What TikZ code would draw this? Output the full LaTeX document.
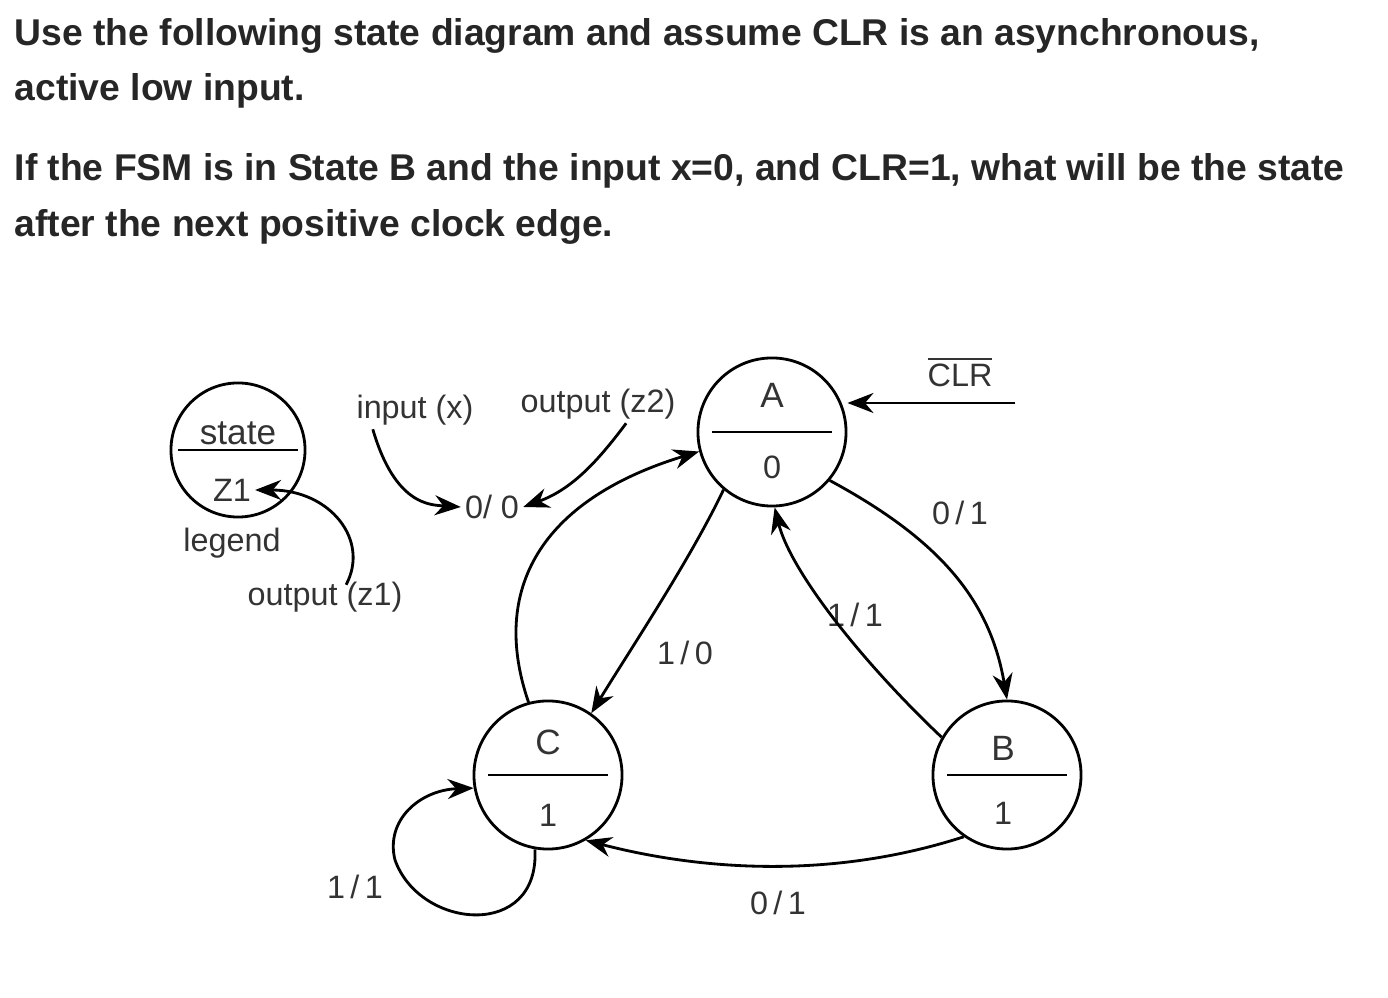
\documentclass[tikz,border=0pt]{standalone}
\usepackage{fontspec}
\setmainfont{Liberation Sans}
\usetikzlibrary{positioning,arrows.meta}

\begin{document}
\begin{tikzpicture}[x=0.01cm, y=-0.01cm,
	st/.style={circle, draw, thick, minimum size=1.48cm, inner sep=0pt,
		path picture={\draw[thick] ([xshift=-0.6cm]path picture bounding box.center) -- ([xshift=0.6cm]path picture bounding box.center);}},
	q/.style={font=\bfseries\fontsize{10.6}{12}\selectfont, anchor=base west, inner sep=0pt, text=black!85},
	lbl/.style={font=\fontsize{9.2}{11}\selectfont, inner sep=1pt, text=black!80},
	tr/.style={-{Stealth[length=2.6mm, width=2mm]}, thick}]
	\useasboundingbox (0,0) rectangle (1388,998);

	\node[q] (l1) at (14,46) {Use the following state diagram and assume CLR is an asynchronous,};
	\node[q] (l2) at (14,101) {active low input.};
	\node[q] (l3) at (14,181) {If the FSM is in State B and the input x=0, and CLR=1, what will be the state};
	\node[q] (l4) at (14,237) {after the next positive clock edge.};

	% states
	\node[st] (a) at (772,432) {};
	\node[st] (b) at (1007,775) {};
	\node[st] (c) at (548,775) {};
	\node[st, minimum size=1.34cm] (lg) at (238,450) {};
	\node[lbl, font=\fontsize{10}{11}\selectfont] (an) at (772,395) {A};
	\node[lbl] (az) at (772,467) {0};
	\node[lbl, font=\fontsize{10}{11}\selectfont] (bn) at (1003,748) {B};
	\node[lbl] (bz) at (1003,813) {1};
	\node[lbl, font=\fontsize{10}{11}\selectfont] (cn) at (548,742) {C};
	\node[lbl] (cz) at (548,815) {1};
	\node[lbl, font=\fontsize{10}{11}\selectfont] (ls) at (238,433) {state};
	\node[lbl] (lz) at (232,490) {Z1};
	\node[lbl] (lgd) at (232,543) {legend};

	% legend texts
	\node[lbl] (inp) at (415,410) {input (x)};
	\node[lbl] (outa) at (598,404) {output (z2)};
	\node[lbl] (oo) at (492,507) {0/ 0};
	\node[lbl] (outb) at (325,597) {output (z1)};
	\node[lbl] (clr) at (960,372) {$\overline{\mbox{CLR}}$};
	\coordinate (clrin) at (1015,403);

	% transition labels
	\node[lbl] (ab) at (960,513) {0\,/\,1};
	\node[lbl] (ba) at (855,615) {1\,/\,1};
	\node[lbl] (ac) at (685,653) {1\,/\,0};
	\node[lbl] (bc) at (778,903) {0\,/\,1};
	\node[lbl] (cc) at (355,887) {1\,/\,1};

	\draw[tr] ([xshift=-12]inp.south) .. controls (395,505) and (430,505) .. (oo.west);
	\draw[tr] ([xshift=8]outa.south) .. controls (595,465) and (570,490) .. (oo.east);
	\draw[tr] ([xshift=6,yshift=-2]outb.north) .. controls (370,540) and (330,490) .. (lz.east);

	% transitions
	\draw[tr] (clrin) -- (a.east |- clrin);
	\draw[tr] (a.-40) .. controls (940,540) and (990,600) .. (b.north);
	\draw[tr] (b.150) .. controls (860,660) and (790,570) .. (a.-88);
	\draw[tr] (a.-130) .. controls (690,560) and (630,650) .. (c.55);
	\draw[tr] (c.105) .. controls (490,590) and (540,500) .. (a.-165);
	\draw[tr] (b.-125) .. controls (830,880) and (700,870) .. (c.-60);
	\draw[tr] (c.-100) .. controls (540,940) and (420,930) .. (395,860) .. controls (385,820) and (420,790) .. (c.-170);
\end{tikzpicture}
\end{document}
